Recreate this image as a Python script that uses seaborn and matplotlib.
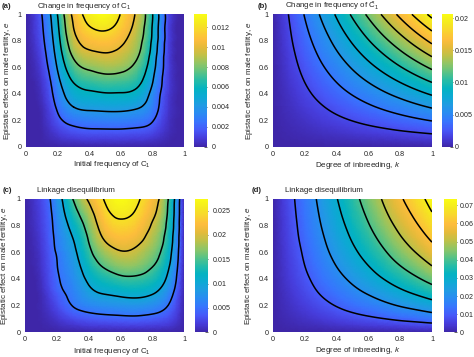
import numpy as np
import matplotlib
matplotlib.use("Agg")
import matplotlib.pyplot as plt
import matplotlib.tri as mtri
import seaborn as sns
from matplotlib.colors import LinearSegmentedColormap

sns.set_theme(style="white")
plt.rcParams["font.family"] = ["Liberation Sans", "DejaVu Sans"]
plt.rcParams["mathtext.fontset"] = "custom"
plt.rcParams["mathtext.rm"] = "Liberation Sans"
plt.rcParams["mathtext.it"] = "Liberation Sans:italic"

# grid where values were read (x: frequency of C1 or inbreeding k, y: epistatic effect e)
grid_x = [0, 0.1, 0.2, 0.3, 0.4, 0.5, 0.6, 0.7, 0.8, 0.9, 1.0]
grid_y = [0, 0.1, 0.2, 0.3, 0.4, 0.5, 0.6, 0.7, 0.8, 0.9, 1.0]

# (a) change in frequency of C1, rows = e from 0 to 1
freq_change_p = [
    [0, 0, 0, 0, 0, 0, 0, 0, 0, 0, 0],
    [0, 0.0001, 0.0008, 0.0013, 0.0015, 0.0015, 0.0015, 0.0014, 0.0011, 0.0003, 0],
    [0, 0.0002, 0.0016, 0.0026, 0.0029, 0.0030, 0.0030, 0.0028, 0.0021, 0.0005, 0],
    [0, 0.0003, 0.0023, 0.0040, 0.0044, 0.0045, 0.0045, 0.0042, 0.0029, 0.0007, 0],
    [0, 0.0005, 0.0029, 0.0051, 0.0057, 0.0059, 0.0059, 0.0055, 0.0034, 0.0008, 0],
    [0, 0.0007, 0.0035, 0.0062, 0.0070, 0.0073, 0.0072, 0.0066, 0.0041, 0.0009, 0],
    [0, 0.0010, 0.0042, 0.0073, 0.0083, 0.0087, 0.0085, 0.0075, 0.0047, 0.0010, 0],
    [0, 0.0013, 0.0048, 0.0084, 0.0096, 0.0099, 0.0095, 0.0083, 0.0052, 0.0010, 0],
    [0, 0.0016, 0.0053, 0.0093, 0.0108, 0.0111, 0.0104, 0.0088, 0.0056, 0.0011, 0],
    [0, 0.0018, 0.0057, 0.0100, 0.0119, 0.0123, 0.0113, 0.0093, 0.0058, 0.0011, 0],
    [0, 0.0020, 0.0061, 0.0105, 0.0127, 0.0133, 0.0119, 0.0097, 0.0060, 0.0012, 0],
]

# (b) change in frequency of C1 against inbreeding k
freq_change_k = [
    [0, 0, 0, 0, 0, 0, 0, 0, 0, 0, 0],
    [0, 0.00021, 0.00041, 0.00062, 0.00082, 0.00103, 0.00124, 0.00144, 0.00165, 0.00185, 0.00206],
    [0, 0.00041, 0.00082, 0.00124, 0.00165, 0.00206, 0.00247, 0.00288, 0.00330, 0.00371, 0.00412],
    [0, 0.00062, 0.00124, 0.00185, 0.00247, 0.00309, 0.00371, 0.00433, 0.00494, 0.00556, 0.00618],
    [0, 0.00082, 0.00165, 0.00247, 0.00330, 0.00412, 0.00494, 0.00577, 0.00659, 0.00742, 0.00824],
    [0, 0.00103, 0.00206, 0.00309, 0.00412, 0.00515, 0.00618, 0.00721, 0.00824, 0.00927, 0.01030],
    [0, 0.00124, 0.00247, 0.00371, 0.00494, 0.00618, 0.00742, 0.00865, 0.00989, 0.01112, 0.01236],
    [0, 0.00144, 0.00288, 0.00433, 0.00577, 0.00721, 0.00865, 0.01009, 0.01154, 0.01298, 0.01442],
    [0, 0.00165, 0.00330, 0.00494, 0.00659, 0.00824, 0.00989, 0.01154, 0.01318, 0.01483, 0.01648],
    [0, 0.00185, 0.00371, 0.00556, 0.00742, 0.00927, 0.01112, 0.01298, 0.01483, 0.01669, 0.01854],
    [0, 0.00206, 0.00412, 0.00618, 0.00824, 0.01030, 0.01236, 0.01442, 0.01648, 0.01854, 0.02060],
]

# (c) linkage disequilibrium against initial frequency of C1
ld_p = [
    [0, 0, 0, 0, 0, 0, 0, 0, 0, 0, 0],
    [0, 0.0002, 0.0013, 0.0026, 0.0034, 0.0038, 0.0040, 0.0041, 0.0037, 0.0027, 0],
    [0, 0.0004, 0.0027, 0.0051, 0.0066, 0.0073, 0.0077, 0.0079, 0.0072, 0.0049, 0],
    [0, 0.0006, 0.0038, 0.0062, 0.0090, 0.0104, 0.0111, 0.0114, 0.0105, 0.0070, 0],
    [0, 0.0009, 0.0045, 0.0071, 0.0108, 0.0130, 0.0142, 0.0143, 0.0132, 0.0090, 0],
    [0, 0.0012, 0.0049, 0.0080, 0.0125, 0.0155, 0.0171, 0.0170, 0.0152, 0.0106, 0],
    [0, 0.0014, 0.0053, 0.0089, 0.0140, 0.0178, 0.0197, 0.0191, 0.0168, 0.0118, 0],
    [0, 0.0017, 0.0058, 0.0099, 0.0153, 0.0203, 0.0221, 0.0212, 0.0183, 0.0128, 0],
    [0, 0.0020, 0.0063, 0.0114, 0.0167, 0.0222, 0.0241, 0.0230, 0.0196, 0.0137, 0],
    [0, 0.0022, 0.0069, 0.0132, 0.0184, 0.0238, 0.0259, 0.0246, 0.0210, 0.0144, 0],
    [0, 0.0025, 0.0076, 0.0150, 0.0206, 0.0253, 0.0274, 0.0257, 0.0222, 0.0150, 0],
]

# (d) linkage disequilibrium against inbreeding k
ld_k = [
    [0, 0, 0, 0, 0, 0, 0, 0, 0, 0, 0],
    [0, 0.0014, 0.0028, 0.0042, 0.0057, 0.0071, 0.0084, 0.0098, 0.0113, 0.0126, 0.0141],
    [0, 0.0026, 0.0051, 0.0077, 0.0103, 0.0128, 0.0153, 0.0179, 0.0205, 0.0229, 0.0256],
    [0, 0.0035, 0.0070, 0.0106, 0.0141, 0.0176, 0.0210, 0.0245, 0.0281, 0.0315, 0.0351],
    [0, 0.0044, 0.0086, 0.0130, 0.0174, 0.0216, 0.0259, 0.0302, 0.0345, 0.0387, 0.0432],
    [0, 0.0050, 0.0100, 0.0151, 0.0202, 0.0251, 0.0300, 0.0350, 0.0400, 0.0448, 0.0501],
    [0, 0.0056, 0.0111, 0.0169, 0.0226, 0.0281, 0.0336, 0.0391, 0.0448, 0.0502, 0.0560],
    [0, 0.0062, 0.0122, 0.0184, 0.0247, 0.0307, 0.0367, 0.0427, 0.0489, 0.0548, 0.0612],
    [0, 0.0066, 0.0131, 0.0198, 0.0265, 0.0329, 0.0394, 0.0459, 0.0525, 0.0589, 0.0658],
    [0, 0.0070, 0.0139, 0.0210, 0.0281, 0.0350, 0.0418, 0.0488, 0.0558, 0.0625, 0.0699],
    [0, 0.0074, 0.0146, 0.0221, 0.0296, 0.0368, 0.0440, 0.0513, 0.0587, 0.0658, 0.0735],
]

levels_a = [0.002, 0.004, 0.006, 0.008, 0.010, 0.012]
levels_b = [0.002, 0.004, 0.006, 0.008, 0.010, 0.012, 0.014, 0.016, 0.018, 0.020]
levels_c = [0.005, 0.010, 0.015, 0.020, 0.025]
levels_d = [0.01, 0.02, 0.03, 0.04, 0.05, 0.06, 0.07]

cbar_ticks_a = [0, 0.002, 0.004, 0.006, 0.008, 0.010, 0.012]
cbar_labels_a = ["0", "0.002", "0.004", "0.006", "0.008", "0.01", "0.012"]
cbar_ticks_b = [0, 0.005, 0.010, 0.015, 0.020]
cbar_labels_b = ["0", "0.005", "0.01", "0.015", "0.02"]
cbar_ticks_c = [0, 0.005, 0.010, 0.015, 0.020, 0.025]
cbar_labels_c = ["0", "0.005", "0.01", "0.015", "0.02", "0.025"]
cbar_ticks_d = [0, 0.01, 0.02, 0.03, 0.04, 0.05, 0.06, 0.07]
cbar_labels_d = ["0", "0.01", "0.02", "0.03", "0.04", "0.05", "0.06", "0.07"]

axis_ticks = [0, 0.2, 0.4, 0.6, 0.8, 1.0]
axis_ticklabels = ["0", "0.2", "0.4", "0.6", "0.8", "1"]

# parula-like colour stops
parula_stops = [
    (0.2422, 0.1504, 0.6603), (0.2748, 0.2344, 0.8546), (0.2787, 0.3449, 0.9730),
    (0.2198, 0.4567, 0.9954), (0.1661, 0.5420, 0.9525), (0.1258, 0.6091, 0.8901),
    (0.0513, 0.6632, 0.8340), (0.0147, 0.7016, 0.7594), (0.1510, 0.7363, 0.6542),
    (0.3497, 0.7620, 0.5222), (0.5581, 0.7723, 0.4000), (0.7405, 0.7565, 0.2850),
    (0.8964, 0.7313, 0.2279), (0.9936, 0.7410, 0.2361), (0.9770, 0.8298, 0.1834),
    (0.9584, 0.9154, 0.1233), (0.9769, 0.9839, 0.0805),
]
parula = LinearSegmentedColormap.from_list("parula", parula_stops)

ink = "#262626"
W, H = 474, 357
fig = plt.figure(figsize=(W / 100, H / 100), dpi=100)

gx, gy = np.meshgrid(grid_x, grid_y)
triang = mtri.Triangulation(gx.ravel(), gy.ravel())
refiner = mtri.UniformTriRefiner(triang)


def px(x, y):
    return x / W, 1 - y / H


def panel(rect, cbar_rect, z, levels, cticks, clabels, xlabel, ylab_x, xlab_pos,
          letter, letter_xy, title, title_xy, cpad=3):
    z = np.array(z, dtype=float)
    ax = fig.add_axes(rect)
    cax = fig.add_axes(cbar_rect)
    interp = mtri.CubicTriInterpolator(triang, z.ravel(), kind="min_E")
    tri_fine, z_fine = refiner.refine_field(z.ravel(), triinterpolator=interp, subdiv=3)
    im = ax.tripcolor(tri_fine, z_fine, shading="gouraud", cmap=parula, vmin=0, vmax=z.max())
    ax.tricontour(tri_fine, z_fine, levels=levels, colors="black", linewidths=1.1)
    ax.set_xlim(0, 1)
    ax.set_ylim(0, 1)
    ax.set_xticks(axis_ticks, axis_ticklabels)
    ax.set_yticks(axis_ticks, axis_ticklabels)
    ax.tick_params(direction="in", length=2, width=0.5, labelsize=5.2, colors=ink, pad=3)
    for s in ax.spines.values():
        s.set_visible(False)
    ax.set_ylabel("Epistatic effect on male fertility, $e$", fontsize=5.8, color=ink, va="center")
    ax.yaxis.set_label_coords(ylab_x, 0.5)
    ax.set_xlabel(xlabel, fontsize=5.8, color=ink, va="center")
    ax.xaxis.set_label_coords(*xlab_pos)

    cb = fig.colorbar(im, cax=cax, ticks=cticks)
    cb.set_ticklabels(clabels)
    cb.outline.set_visible(False)
    cax.tick_params(direction="in", length=2, width=0.5, labelsize=5.1, colors=ink, pad=cpad)

    fig.text(*px(*letter_xy), letter, fontsize=5.6, fontweight="bold", color=ink, va="center")
    fig.text(*px(*title_xy), title, fontsize=5.7, color=ink, va="center")


panel([0.0549, 0.5891, 0.3340, 0.3709], [0.4099, 0.5891, 0.0274, 0.3709],
      freq_change_p, levels_a, cbar_ticks_a, cbar_labels_a,
      "Initial frequency of $\\mathregular{C_1}$", -0.118, (0.54, -0.138),
      "(a)", (2, 6), "Change in frequency of $\\mathregular{C_1}$", (37, 6))
panel([0.5759, 0.5891, 0.3354, 0.3709], [0.9335, 0.5891, 0.0222, 0.3709],
      freq_change_k, levels_b, cbar_ticks_b, cbar_labels_b,
      "Degree of inbreeding, $k$", -0.147, (0.536, -0.14),
      "(b)", (258, 6), "Change in frequency of $\\mathregular{\\hat{C}_1}$", (285, 6), cpad=1.5)
panel([0.0527, 0.0692, 0.3361, 0.3734], [0.4114, 0.0692, 0.0281, 0.3734],
      ld_p, levels_c, cbar_ticks_c, cbar_labels_c,
      "Initial frequency of $\\mathregular{C_1}$", -0.126, (0.546, -0.143),
      "(c)", (3, 191), "Linkage disequilibrium", (37, 191))
panel([0.5759, 0.0692, 0.3354, 0.3734], [0.9361, 0.0692, 0.0270, 0.3734],
      ld_k, levels_d, cbar_ticks_d, cbar_labels_d,
      "Degree of inbreeding, $k$", -0.153, (0.536, -0.138),
      "(d)", (252, 191), "Linkage disequilibrium", (285, 191), cpad=2)

fig.savefig("out.png", dpi=100, facecolor="white")
